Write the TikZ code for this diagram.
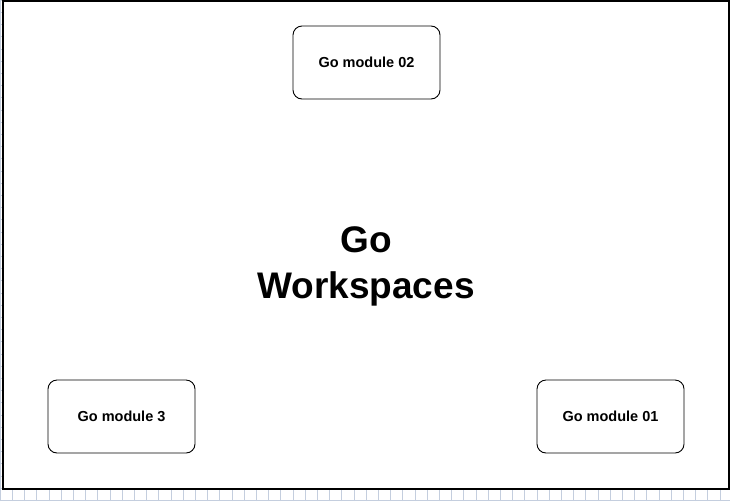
\documentclass[tikz,border=0pt]{standalone}
\usepackage{fontspec}
\setmainfont{Liberation Sans}
\usepackage{tikz}
\usetikzlibrary{positioning}
\definecolor{gridblue}{RGB}{196,206,222}
\tikzset{module/.style = {draw,rounded corners=9pt,line width=0.9pt,minimum width=147pt,minimum height=73pt,font=\bfseries\fontsize{14.5}{17}\selectfont}}

\begin{document}
\begin{tikzpicture}[x=1pt,y=-1pt]
                \useasboundingbox (0,0) rectangle (730,501);
                \fill[white] (0,0) rectangle (730,501);
                \draw[gridblue,line width=0.6pt,step=12.2pt] (0,0) grid (730,501);
                \draw[fill=white,line width=1.2pt] (3,1) rectangle (729,489);
                \node[module] (m02) at (366.5,62.5) {Go module 02};
                \node[module] (m3) at (121.5,416.5) {Go module 3};
                \node[module] (m01) at (610.5,416.5) {Go module 01};
                \node[align=center,font=\bfseries\fontsize{37}{46}\selectfont] (ws) at (366,266) {Go\\Workspaces};
            \end{tikzpicture}
\end{document}
